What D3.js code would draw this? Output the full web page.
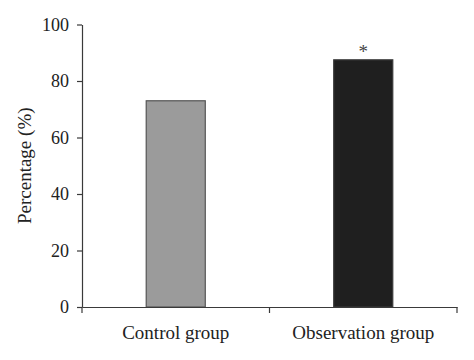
<!DOCTYPE html>
<html><head><meta charset="utf-8">
<script src="https://cdn.jsdelivr.net/npm/d3@7"></script>
<style>body{margin:0;background:#fff}svg{display:block}</style>
</head><body>
<svg id="c" width="474" height="360"></svg>
<script>
const categories = ["Control group", "Observation group"];
const values = [73, 87.5];
const significance = ["", "*"];
const yTicks = [0, 20, 40, 60, 80, 100];
const yLabel = "Percentage (%)";

(function () {
const svg = d3.select("#c");
const font = "'Liberation Serif', 'Times New Roman', serif";
const mLeft = 82, mRight = 457, mTop = 24.5, mBottom = 307;
const x = d3.scaleBand().domain(categories).range([mLeft, mRight]).padding(0);
const y = d3.scaleLinear().domain([0, 100]).range([mBottom, mTop]);
const barW = x.bandwidth() * 0.315;
const fills = ["#9b9b9b", "#1f1f1f"];
const strokes = ["#555", "#3a3a3a"];
const axisColor = "#3a3a3a";

svg.selectAll("rect.bar").data(categories).join("rect")
  .attr("class", "bar")
  .attr("x", d => x(d) + x.bandwidth() / 2 - barW / 2)
  .attr("width", barW)
  .attr("y", (d, i) => y(values[i]))
  .attr("height", (d, i) => mBottom - y(values[i]))
  .attr("fill", (d, i) => fills[i])
  .attr("stroke", (d, i) => strokes[i])
  .attr("stroke-width", 1.2);

svg.selectAll("text.sig").data(categories).join("text")
  .attr("class", "sig")
  .attr("x", d => x(d) + x.bandwidth() / 2)
  .attr("y", (d, i) => y(values[i]) - 2)
  .attr("text-anchor", "middle")
  .attr("font-family", font).attr("font-size", 19).attr("fill", "#444")
  .text((d, i) => significance[i]);

const ya = svg.append("g").attr("transform", `translate(${mLeft},0)`)
  .call(d3.axisLeft(y).tickValues(yTicks).tickSize(5).tickPadding(8).tickSizeOuter(0));
ya.select(".domain").attr("stroke", axisColor).attr("stroke-width", 1.2);
ya.selectAll(".tick line").attr("stroke", axisColor).attr("stroke-width", 1.2);
ya.selectAll(".tick text").attr("font-family", font).attr("font-size", 18).attr("fill", "#222");

const xa = svg.append("g").attr("transform", `translate(0,${mBottom})`)
  .call(d3.axisBottom(x).tickSize(0).tickPadding(19).tickSizeOuter(0));
xa.select(".domain").attr("stroke", axisColor).attr("stroke-width", 1.2);
xa.selectAll(".tick text").attr("font-family", font).attr("font-size", 19).attr("fill", "#222");
const bounds = [mLeft, ...categories.map(c => x(c) + x.bandwidth())];
xa.selectAll("line.bt").data(bounds).join("line").attr("class", "bt")
  .attr("x1", d => d).attr("x2", d => d).attr("y1", 0).attr("y2", 6)
  .attr("stroke", axisColor).attr("stroke-width", 1.2);

svg.append("text")
  .attr("transform", `translate(31,${(mTop + mBottom) / 2}) rotate(-90)`)
  .attr("text-anchor", "middle")
  .attr("font-family", font).attr("font-size", 19).attr("fill", "#222")
  .text(yLabel);
})();
</script>
</body></html>
